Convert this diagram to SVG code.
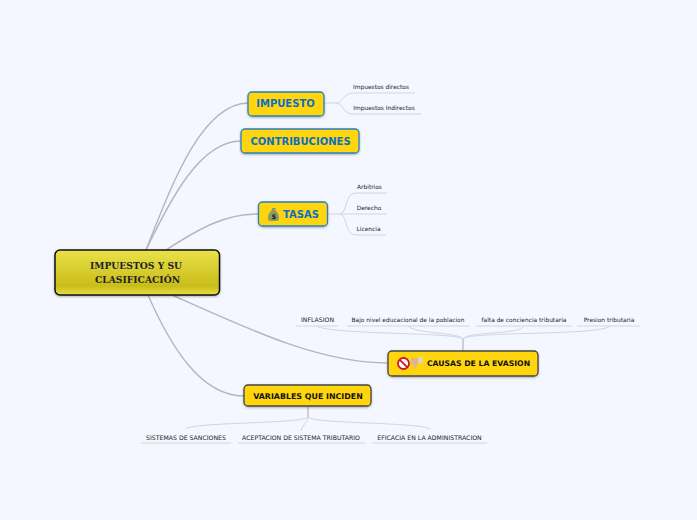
<svg xmlns="http://www.w3.org/2000/svg" width="697" height="520" viewBox="0 0 697 520">
<defs>
<linearGradient id="g" x1="0" y1="0" x2="0" y2="1"><stop offset="0" stop-color="#eae24a"/><stop offset="0.8" stop-color="#c9bd1a"/><stop offset="1" stop-color="#e8df45"/></linearGradient>
<filter id="s" x="-10%" y="-20%" width="120%" height="140%"><feDropShadow dx="0" dy="1" stdDeviation="1" flood-color="#000" flood-opacity="0.3"/></filter>
</defs>
<style>
.b{fill:none;stroke:#b6b6ba;stroke-width:1.4}
.l{fill:none;stroke:#d3d5dc;stroke-width:1}
.n{fill:#ffd510;filter:url(#s)}
.bl{stroke:#2a7fc0;stroke-width:1.3}
.dk{stroke:#444;stroke-width:1.3}
.t{font-family:"DejaVu Sans",sans-serif;font-weight:bold;font-size:10px;fill:#0b6fc4;text-anchor:middle}
.k{font-family:"DejaVu Sans",sans-serif;font-weight:bold;fill:#111;text-anchor:middle}
.s{font-family:"DejaVu Sans",sans-serif;font-size:5.9px;fill:#222;text-anchor:middle}
.u{font-size:6.2px}
</style>
<rect width="697" height="520" fill="#f4f7ff"/>
<g id="connectors">
<path class="b" d="M146 250C170 190 200 104 248 103"/>
<path class="b" d="M146 250C170 200 200 141 241 141"/>
<path class="b" d="M166 250C200 228 225 214 258 214"/>
<path class="b" d="M172 295C250 330 320 363 388 363"/>
<path class="b" d="M148 295C170 345 200 396 244 396"/>
<path class="l" d="M324 103H336C343 103 343 93 353 93H415M336 103C343 103 343 114 353 114H421"/>
<path class="l" d="M328 214H340C347 214 345 193 355 193H387M340 214H387M340 214C347 214 345 235 355 235H386"/>
<path class="l" d="M463 339C458 332 330 335 317 326H296M463 339C458 332 415 334 408 326H347M463 339C468 331 520 335 524 326H476M463 339C468 331 600 336 610 326H577M317 326H338M408 326H470M524 326H572M610 326H640"/>
<path class="l" d="M308 417C303 424 190 422 186 429M308 417C308 422 303 424 301 431M308 417C313 424 420 422 430 429"/>
<path class="l" d="M141 443H231M238 443H365M372 443H487"/>
<path d="M308 407V417M463 351V339" fill="none" stroke="#b6b6ba" stroke-width="1.2"/>
</g>
<g id="root"><rect x="55" y="250" width="164.500" height="45" rx="5" fill="url(#g)" stroke="#111" stroke-width="1.500" filter="url(#s)"/>
<text x="136" y="269" font-family="'DejaVu Serif',serif" font-weight="bold" font-size="9.200" fill="#222" text-anchor="middle">IMPUESTOS Y SU</text>
<text x="137.500" y="283" font-family="'DejaVu Serif',serif" font-weight="bold" font-size="9.200" fill="#222" text-anchor="middle">CLASIFICACIÓN</text></g>
<g id="impuesto"><rect class="n bl" x="248" y="92" width="76" height="24" rx="4"/><text class="t" x="285.500" y="107">IMPUESTO</text></g>
<g id="contribuciones"><rect class="n bl" x="241" y="129" width="118" height="24" rx="4"/><text class="t" x="300.500" y="145">CONTRIBUCIONES</text></g>
<g id="tasas"><rect class="n bl" x="258.500" y="202" width="69" height="24" rx="4"/><text class="t" x="301" y="218">TASAS</text>
<path d="M272 208h4l-1 2c3 2 4 5 4 8c0 3-1 3-4 3h-3c-3 0-4 0-4-3c0-3 1-6 4-8z" fill="#8d9a6a"/><text x="274" y="218.500" font-family="'DejaVu Sans',sans-serif" font-weight="bold" font-size="7px" fill="#222" text-anchor="middle">$</text></g>
<g id="causas"><rect class="n dk" x="388" y="351" width="150" height="25" rx="4"/><text class="k" x="478.500" y="366" font-size="7.700">CAUSAS DE LA EVASION</text>
<circle cx="403.500" cy="363.500" r="5.500" fill="#fff" stroke="#d2142a" stroke-width="1.800"/><path d="M399.800 359.800L407.200 367.200" stroke="#d2142a" stroke-width="1.800"/>
<path d="M411 358h7v6l-3 5h-1.500l.5-4h-3z" fill="#e2b48c"/><rect x="418.500" y="357" width="4" height="6" fill="#d4d6d8"/></g>
<g id="variables"><rect class="n dk" x="244" y="385" width="127" height="21" rx="4"/><text class="k" x="308" y="399" font-size="7.900">VARIABLES QUE INCIDEN</text></g>
<g id="d1"><text class="s" x="381" y="89">Impuestos directos</text></g>
<g id="d2"><text class="s" x="384" y="110">Impuestos Indirectos</text></g>
<g id="a1"><text class="s" x="369.500" y="189">Arbitrios</text></g>
<g id="a2"><text class="s" x="369" y="210">Derecho</text></g>
<g id="a3"><text class="s" x="368.500" y="231">Licencia</text></g>
<g id="c1"><text class="s u" x="317.500" y="322">INFLASION</text></g>
<g id="c2"><text class="s" x="408" y="322">Bajo nivel educacional de la poblacion</text></g>
<g id="c3"><text class="s" x="524" y="322">falta de conciencia tributaria</text></g>
<g id="c4"><text class="s" x="609" y="322">Presion tributaria</text></g>
<g id="v1"><text class="s u" x="186" y="440">SISTEMAS DE SANCIONES</text></g>
<g id="v2"><text class="s u" x="301" y="440">ACEPTACION DE SISTEMA TRIBUTARIO</text></g>
<g id="v3"><text class="s u" x="429.500" y="440">EFICACIA EN LA ADMINISTRACION</text></g>
</svg>
